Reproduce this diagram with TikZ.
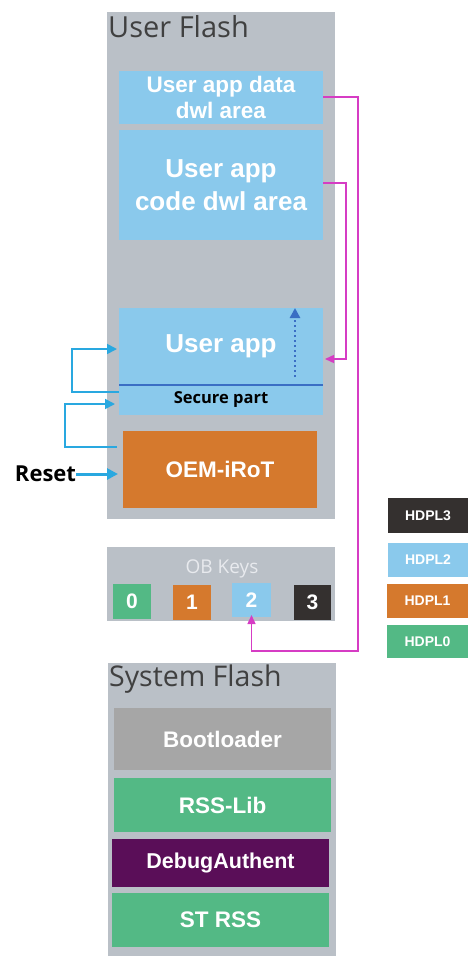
\documentclass[tikz,border=0pt]{standalone}
\usepackage{fontspec}
\setmainfont{Liberation Sans}
\newfontfamily\osans{Open Sans}
\usetikzlibrary{arrows.meta}
\definecolor{flashgray}{RGB}{186,192,199}
\definecolor{lblue}{RGB}{138,201,236}
\definecolor{orng}{RGB}{213,121,45}
\definecolor{grn}{RGB}{83,185,133}
\definecolor{drk}{RGB}{52,48,47}
\definecolor{purp}{RGB}{90,14,88}
\definecolor{bootgray}{RGB}{166,166,166}
\definecolor{cyanarr}{RGB}{41,168,224}
\definecolor{magarr}{RGB}{214,60,196}
\definecolor{dblue}{RGB}{58,110,196}
\definecolor{titlegray}{RGB}{64,64,64}
\definecolor{obtext}{RGB}{232,234,238}
\begin{document}
\begin{tikzpicture}[x=1pt,y=-1pt,
  blk/.style={draw=none,inner sep=0pt,outer sep=0pt,align=center,text=white,font=\bfseries\fontsize{22.5}{26}\selectfont},
  panel/.style={draw=none,fill=flashgray,inner sep=0pt,outer sep=0pt},
  title/.style={anchor=base west,inner sep=0pt,text=titlegray,font=\osans\fontsize{29}{34}\selectfont},
  keybox/.style={blk,font=\bfseries\fontsize{21}{24}\selectfont},
  legbox/.style={blk,minimum width=80pt,font=\bfseries\fontsize{14}{16}\selectfont},
  barrow/.style={draw=cyanarr,line width=1.8pt,-{Triangle[length=10pt,width=10pt]}},
  marrow/.style={draw=magarr,line width=1.4pt,-{Triangle[length=9pt,width=8pt]}}]
\useasboundingbox (0,0) rectangle (474,963);
% User Flash
\node[panel,minimum width=228pt,minimum height=507pt] (uf) at (221,265.5) {};
\node[title] (uft) at (108,38) {User Flash};
\node[blk,fill=lblue,minimum width=204pt,minimum height=53pt] (data) at (221,97.5) {User app data\\dwl area};
\node[blk,fill=lblue,minimum width=204pt,minimum height=110pt,font=\bfseries\fontsize{26}{33}\selectfont] (code) at (221,185) {User app\\code dwl area};
\node[blk,fill=lblue,minimum width=204pt,minimum height=77pt,font=\bfseries\fontsize{26}{30}\selectfont] (ua) at (221,346.5) {User app};
\node[blk,fill=lblue,minimum width=204pt,minimum height=30pt,text=black,font=\osans\bfseries\fontsize{16.5}{19}\selectfont] (sp) at (221,400) {Secure part};
\draw[dblue,line width=2.2pt] (ua.south west) -- (ua.south east);
\coordinate (dotS) at (295,377);
\coordinate (dotE) at (295,308);
\draw[dblue,line width=2.5pt,dash pattern=on 2.5pt off 2.5pt,-{Triangle[length=10pt,width=10pt]}] (dotS) -- (dotE);
\node[blk,fill=orng,minimum width=194pt,minimum height=77pt] (oem) at (220,469.5) {OEM-iRoT};
% left arrows
\draw[barrow] (sp.west |- 0,392) -- (72,392) |- ([xshift=-2pt]ua.west |- 0,349);
\draw[barrow] (117,447) -- (65,447) |- ([xshift=-4pt]sp.west |- 0,404);
\node[anchor=base,inner sep=0pt,font=\osans\bfseries\fontsize{22}{26}\selectfont] (reset) at (45.5,481) {Reset};
\draw[draw=cyanarr,line width=3pt,-{Triangle[length=11pt,width=11pt]}] (reset.east |- 0,474) -- ([xshift=-5pt]oem.west |- 0,474);
% OB keys
\node[panel,minimum width=228pt,minimum height=74pt] (ob) at (221,584) {};
\node[anchor=base,inner sep=0pt,text=obtext,font=\osans\fontsize{19}{22}\selectfont] (obt) at (222,573) {OB Keys};
\node[keybox,fill=grn,minimum width=38pt,minimum height=35pt] (k0) at (132,601.5) {0};
\node[keybox,fill=orng,minimum width=38pt,minimum height=35pt] (k1) at (192,602.5) {1};
\node[keybox,fill=lblue,minimum width=39pt,minimum height=34pt] (k2) at (251.5,600) {2};
\node[keybox,fill=drk,minimum width=37pt,minimum height=35pt] (k3) at (312.5,602.5) {3};
% magenta arrows
\draw[marrow] (data.east |- 0,97) -| (358,651) -| ([yshift=2pt]k2.south);
\draw[marrow] (code.east |- 0,183) -| (346,359) -- ([xshift=2pt]ua.east |- 0,359);
% legend
\node[legbox,fill=drk,minimum height=35pt] (l3) at (428,515.5) {HDPL3};
\node[legbox,fill=lblue,minimum height=34pt] (l2) at (428,560) {HDPL2};
\node[legbox,fill=orng,minimum width=81pt,minimum height=34pt] (l1) at (427.5,601) {HDPL1};
\node[legbox,fill=grn,minimum width=81pt,minimum height=33pt] (l0) at (427.5,641.5) {HDPL0};
% System Flash
\node[panel,minimum width=228pt,minimum height=293pt] (sf) at (222,809.5) {};
\node[title,font=\osans\fontsize{28.5}{33}\selectfont] (sft) at (109,686) {System Flash};
\node[blk,fill=bootgray,minimum width=217pt,minimum height=62pt] (boot) at (222.5,739) {Bootloader};
\node[blk,fill=grn,minimum width=217pt,minimum height=54pt] (rss) at (222.5,805) {RSS-Lib};
\node[blk,fill=purp,minimum width=217pt,minimum height=48pt,font=\bfseries\fontsize{21.5}{26}\selectfont] (dbg) at (220.5,863) {DebugAuthent};
\node[blk,fill=grn,minimum width=217pt,minimum height=54pt] (st) at (220.5,920) {ST RSS};
\end{tikzpicture}
\end{document}
